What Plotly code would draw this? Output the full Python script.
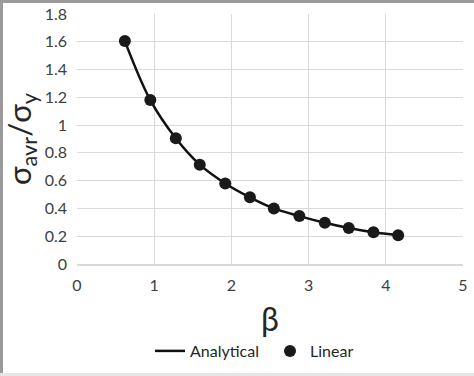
import plotly.graph_objects as go

beta = [0.62, 0.95, 1.28, 1.59, 1.92, 2.24, 2.55, 2.88, 3.21, 3.52, 3.84, 4.16]
analytical = [1.605, 1.18, 0.905, 0.715, 0.58, 0.48, 0.40, 0.345, 0.297, 0.259, 0.228, 0.207]
linear = [1.605, 1.18, 0.905, 0.715, 0.58, 0.48, 0.40, 0.345, 0.297, 0.259, 0.228, 0.207]

x_ticks = [0, 1, 2, 3, 4, 5]
y_ticks = [0, 0.2, 0.4, 0.6, 0.8, 1, 1.2, 1.4, 1.6, 1.8]
y_tick_text = ["0", "0.2", "0.4", "0.6", "0.8", "1", "1.2", "1.4", "1.6", "1.8"]

W, H = 474, 376
L, R, T, B = 77, 11, 14, 112
pw, ph = W - L - R, H - T - B

def px(x):
    return (x - L) / pw

def py(y):
    return (H - B - y) / ph

fig = go.Figure()
fig.add_trace(go.Scatter(x=beta, y=analytical, mode="lines", name="Analytical",
                         line=dict(color="#111111", width=2.5, shape="spline")))
fig.add_trace(go.Scatter(x=beta, y=linear, mode="markers", name="Linear",
                         marker=dict(color="#1a1a1a", size=12)))

font = "Lato, 'Open Sans', sans-serif"
fig.update_layout(
    width=W, height=H,
    margin=dict(l=L, r=R, t=T, b=B, autoexpand=False),
    paper_bgcolor="white", plot_bgcolor="white",
    font=dict(family=font, color="#404040"),
    showlegend=True,
    legend=dict(orientation="h", x=0.5, xanchor="center", y=py(368), yanchor="bottom",
                font=dict(size=16, color="#262626"), itemwidth=30, entrywidth=75,
                tracegroupgap=0),
    xaxis=dict(range=[0, 5], tickvals=x_ticks, showgrid=True, gridcolor="#d9d9d9", gridwidth=1,
               zeroline=False, showline=True, linecolor="#d9d9d9", linewidth=1.5,
               tickfont=dict(size=16, color="#404040"), ticks="", ticklen=0,
               ticklabelstandoff=6,
               title=dict(text="β", font=dict(size=32, color="#262626"), standoff=16)),
    yaxis=dict(range=[0, 1.8], tickvals=y_ticks, ticktext=y_tick_text, showgrid=True,
               gridcolor="#d9d9d9", gridwidth=1, zeroline=False, showline=False,
               tickfont=dict(size=16, color="#404040"), ticks="", ticklen=0,
               ticklabelstandoff=9,
               title=dict(text="σ<sub>avr</sub>/σ<sub>y</sub>", font=dict(size=31, color="#262626"), standoff=4)),
    shapes=[
        dict(type="rect", xref="paper", yref="paper", x0=px(0), x1=px(W), y0=py(3), y1=py(0),
             fillcolor="#9a9a9a", line=dict(width=0), layer="above"),
        dict(type="rect", xref="paper", yref="paper", x0=px(0), x1=px(3), y0=py(H), y1=py(0),
             fillcolor="#9a9a9a", line=dict(width=0), layer="above"),
        dict(type="rect", xref="paper", yref="paper", x0=px(0), x1=px(W), y0=py(H), y1=py(H - 3),
             fillcolor="#e6e6e6", line=dict(width=0), layer="above"),
    ],
)

fig.write_html("out.html", config={"displayModeBar": False},
               post_script="document.body.style.margin='0';")
